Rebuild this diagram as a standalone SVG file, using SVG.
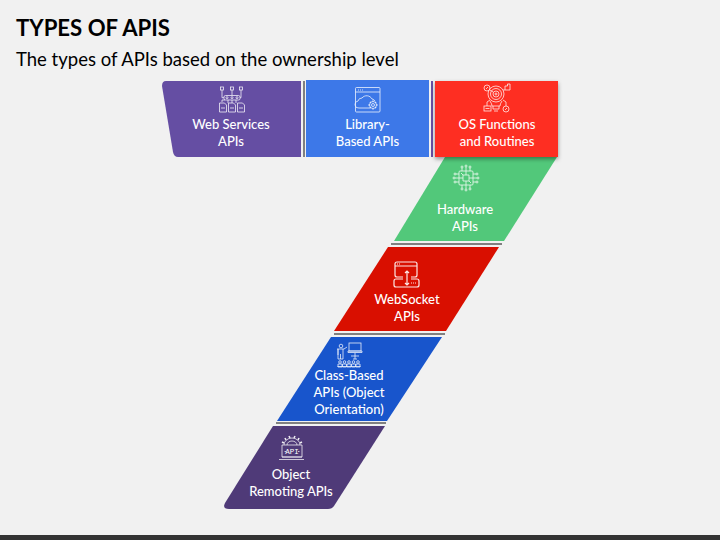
<svg xmlns="http://www.w3.org/2000/svg" width="720" height="540" viewBox="0 0 720 540">
<style>
.t{font-family:"Lato","Liberation Sans",sans-serif;fill:#000}
.l{font-family:"Lato","Liberation Sans",sans-serif;font-size:13px;font-weight:500;fill:#fff;text-anchor:middle}
.i{fill:none;stroke:#fff;stroke-width:.8;opacity:.9}
.sep{stroke:#808080;stroke-width:2}
</style>
<defs><filter id="sh" x="-10%" y="-10%" width="120%" height="125%"><feDropShadow dx="0" dy="2" stdDeviation="2" flood-color="#000" flood-opacity=".4"/></filter></defs>
<rect width="720" height="540" fill="#f1f1f1"/>
<rect y="535" width="720" height="5" fill="#333"/>
<text class="t" x="16" y="36" font-size="23.500" font-weight="700" textLength="154" lengthAdjust="spacingAndGlyphs">TYPES OF APIS</text>
<text class="t" x="16" y="66" font-size="18.500">The types of APIs based on the ownership level</text>
<g id="connectors">
<line class="sep" x1="304" y1="81" x2="304" y2="157"/>
<line x1="432" y1="81" x2="432" y2="157" stroke="#6750a4" stroke-width="2"/>
<line class="sep" x1="391" y1="244" x2="502" y2="244"/>
<line class="sep" x1="334" y1="334" x2="445" y2="334"/>
<line class="sep" x1="276" y1="423" x2="386" y2="423"/>
</g>
<g id="hardware">
<path d="M445 157H557L504 241H394Z" fill="#52c87a"/>
<g class="i"><rect x="459" y="171" width="14" height="14" rx="1"/><path d="M463 175h6v6h-6zM466 171v4M466 181v4M459 178h4M469 178h4M461 173l2 2M471 183l-2-2"/>
<path d="M462 171v-3M466 171v-4M470 171v-3M462 185v3M466 185v4M470 185v3M459 174h-3M459 178h-4M459 182h-3M473 174h3M473 178h4M473 182h3"/>
<circle cx="462" cy="167" r="1"/><circle cx="466" cy="166" r="1"/><circle cx="470" cy="167" r="1"/><circle cx="462" cy="189" r="1"/><circle cx="466" cy="190" r="1"/><circle cx="470" cy="189" r="1"/><circle cx="455" cy="174" r="1"/><circle cx="454" cy="178" r="1"/><circle cx="455" cy="182" r="1"/><circle cx="477" cy="174" r="1"/><circle cx="478" cy="178" r="1"/><circle cx="477" cy="182" r="1"/></g>
<text class="l"><tspan x="465" y="214">Hardware</tspan><tspan x="465" y="231">APIs</tspan></text>
</g>
<g id="websocket">
<path d="M388 247H499L446 331H334Z" fill="#d90f00"/>
<g class="i" style="stroke-width:1.200"><path d="M397 277q-2 0-2-2v-11q0-2 2-2h18q2 0 2 2v11q0 2-2 2h-4M403 277h-6M395 266h22"/><path d="M403 279h-7q-2 0-2 2v4q0 2 2 2h21q2 0 2-2v-4q0-2-2-2h-6"/><path d="M407 271v14M405 273l2-2 2 2M405 283l2 2 2-2"/><path d="M411 283h5M397 264h3" stroke-dasharray="1 1"/></g>
<text class="l"><tspan x="407" y="304">WebSocket</tspan><tspan x="407" y="321">APIs</tspan></text>
</g>
<g id="class-based">
<path d="M331 337H442L387 421H277Z" fill="#1855cc"/>
<g class="i"><rect x="349" y="343" width="12" height="8"/><path d="M348 351h14v1.500h-14zM355 353v3M351 356h8M355 356v3M353 359h4"/><circle cx="341" cy="346" r="1.800"/><path d="M337 349h7l3-2M338 349v6M343 349v10h-5v-10M340.500 354v5"/><g id="seats"><circle cx="340" cy="362" r="1.300"/><circle cx="344.500" cy="362" r="1.300"/><circle cx="349" cy="362" r="1.300"/><circle cx="353.500" cy="362" r="1.300"/><circle cx="358" cy="362" r="1.300"/><path d="M338 367v-3h4v3zM342.500 367v-3h4v3zM347 367v-3h4v3zM351.500 367v-3h4v3zM356 367v-3h4v3zM337.500 366.500h23"/></g></g>
<text class="l"><tspan x="349" y="380">Class-Based</tspan><tspan x="349" y="397">APIs (Object</tspan><tspan x="349" y="414">Orientation)</tspan></text>
</g>
<g id="object-remoting">
<path d="M273 426H385L334 506Q332 509 328 509H229Q222 509 225 503Z" fill="#4f3a78"/>
<g class="i"><path d="M282 445v12h20v-12zM279 459.500h25M282 457h20"/><path d="M284 445a8 7 0 0 1 16 0"/><path d="M287 445a5 4 0 0 1 10 0"/><path d="M284 443l-2-1M286 440l-1-2M290 438l-1-2M294 438l1-2M298 440l1-2M300 443l2-1" stroke-width="1.600"/><path d="M284.500 451.500h1.500M298 451.500h1.500"/></g>
<text font-family="Liberation Mono,monospace" font-size="7.500" fill="#fff" x="292" y="454" text-anchor="middle">API</text>
<text class="l"><tspan x="291" y="479">Object</tspan><tspan x="291" y="496">Remoting APIs</tspan></text>
</g>
<g id="web-services">
<path d="M166 81H301V157H178Q174 157 173 152L162 86Q162 81 166 81Z" fill="#654ea3"/>
<g class="i"><rect x="220.500" y="87" width="3" height="3"/><rect x="230.500" y="87" width="3" height="3"/><rect x="239.500" y="87" width="3" height="3"/><rect x="224" y="95.500" width="16" height="4.500" rx="1.500"/><circle cx="227" cy="97.700" r="1"/><circle cx="232" cy="97.700" r="1"/><circle cx="237" cy="97.700" r="1"/><path d="M222 90v7.700h2M232 90v5.500M241 90v7.700h-1M228 100v3M232 100v3M236 100v3M222 102v-2h3"/><path d="M219.500 112v-9h5l2 2v7zM228.500 112v-9h5l2 2v7zM237.500 112v-9h5l2 2v7zM221 108h4M230 108h4M239 108h4"/></g>
<text class="l"><tspan x="231" y="129">Web Services</tspan><tspan x="231" y="146">APIs</tspan></text>
</g>
<g id="library-based">
<rect x="306" y="80" width="123" height="77" fill="#3d78e8"/>
<g class="i"><rect x="355.500" y="87.500" width="24.500" height="24.500" rx="1"/><path d="M355.500 92h24.500"/><path d="M358 90h5" stroke-dasharray="1 1"/><path d="M370 108h-11a3.500 3.500 0 0 1-1-7 4 4 0 0 1 4-3 6 6 0 0 1 10 1 4 4 0 0 1 3 2"/><circle cx="373" cy="105" r="3.500"/><circle cx="373" cy="105" r="1.500"/><path d="M373 100.500v1M373 108.500v1M368.500 105h1M376.500 105h1M370 102l.7.700M376 102l-.7.700M370 108l.7-.7M376 108l-.7-.7" stroke-width="1.300"/></g>
<text class="l"><tspan x="367.500" y="129">Library-</tspan><tspan x="367.500" y="146">Based APIs</tspan></text>
</g>
<g id="os-functions">
<rect x="435" y="81" width="123" height="76" fill="#fe2d22" filter="url(#sh)"/>
<g class="i"><circle cx="496" cy="94" r="8"/><circle cx="496" cy="94" r="5.500"/><circle cx="496" cy="94" r="3"/><circle cx="496" cy="94" r="1"/><circle cx="487" cy="88" r="3"/><path d="M486 89l2-2M490 90l3 2"/><path d="M505 90v-4h2.500v-2h2.500v6zM505 90h-2"/><path d="M490 101q2 3 2 5h8q0-2 2-5M493 106v3h6v-3M494 111h4"/><circle cx="506" cy="109" r="3"/><path d="M505 110l2-2M506 106v-4l-3-2"/><rect x="484" y="106" width="7" height="5"/><path d="M487 106v-4l3-2M485.500 108.500h4"/></g>
<text class="l"><tspan x="497" y="129">OS Functions</tspan><tspan x="497" y="146">and Routines</tspan></text>
</g>
</svg>
